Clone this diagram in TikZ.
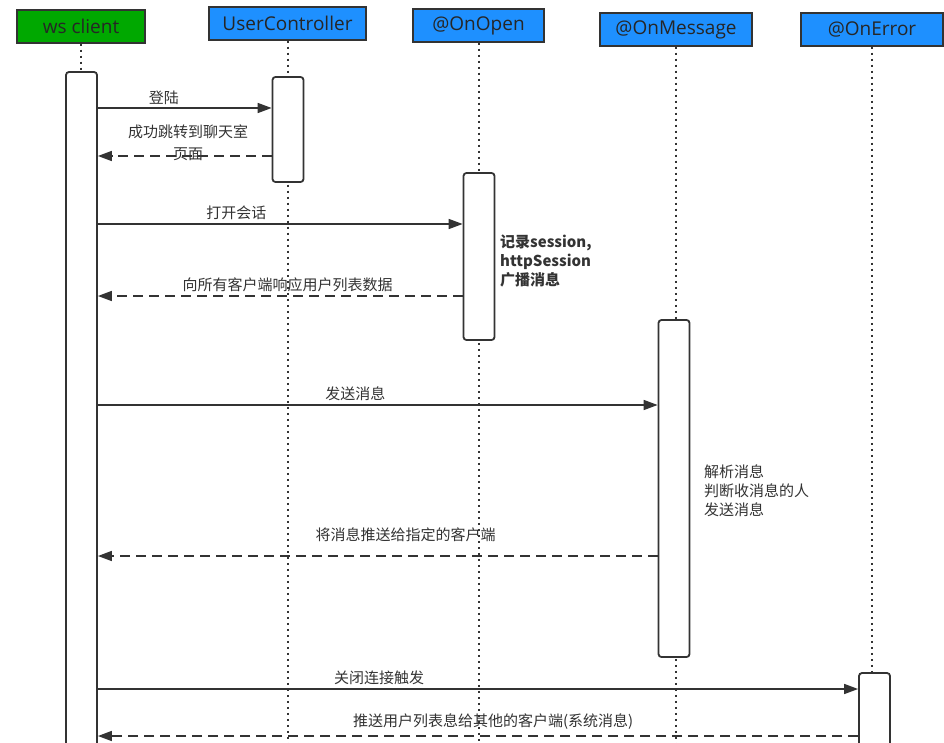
\documentclass[tikz,border=0pt]{standalone}
\usepackage{fontspec}
\setmainfont{Open Sans}
\newfontfamily\cjk{Noto Sans CJK SC}
\usetikzlibrary{arrows.meta}
\definecolor{headblue}{RGB}{30,144,255}
\definecolor{headgreen}{RGB}{0,168,0}
\definecolor{ink}{RGB}{51,51,51}

\begin{document}
\begin{tikzpicture}[x=1pt,y=-1pt,
    head/.style={draw=ink,line width=1.5pt,fill=headblue,minimum height=33pt,inner sep=0pt,text=black!85,font=\fontsize{19}{19}\selectfont},
    act/.style={draw=ink,line width=1.8pt,fill=white,rounded corners=3pt,minimum width=31pt,inner sep=0pt},
    life/.style={ink,line width=2pt,dash pattern=on 2pt off 4pt},
    call/.style={ink,line width=1.6pt,-{Triangle[length=14pt,width=10pt]}},
    answer/.style={call,dash pattern=on 10pt off 6pt},
    lbl/.style={font=\cjk\fontsize{15}{18}\selectfont,text=black!80,inner sep=3pt},
    note/.style={lbl,align=left,anchor=north west,font=\cjk\fontsize{15}{19}\selectfont}]
 \useasboundingbox (0,0) rectangle (944,743);
 \clip (0,0) rectangle (944,743);
 \fill[white] (0,0) rectangle (944,743);
 % heads of the lifelines
 \node[head,fill=headgreen,minimum width=128pt] (client) at (81,26.5) {ws client};
 \node[head,minimum width=157pt] (user) at (287.5,23.5) {UserController};
 \node[head,minimum width=131pt] (open) at (478.5,25.5) {@OnOpen};
 \node[head,minimum width=152pt] (msg) at (676,29.5) {@OnMessage};
 \node[head,minimum width=142pt] (err) at (872,29.5) {@OnError};
 \coordinate (bottom) at (0,760);
 \foreach \n in {client,user,open,msg,err}{\draw[life] (\n.south) -- (\n |- bottom);}
 % activation bars
 \node[act,minimum height=690pt] (aclient) at (81.5,417) {};
 \node[act,minimum height=105pt] (auser) at (288,129.5) {};
 \node[act,minimum height=167pt] (aopen) at (479,256.5) {};
 \node[act,minimum height=337pt] (amsg) at (674,488.5) {};
 \node[act,minimum height=90pt] (aerr) at (874.5,718) {};
 % messages
 \draw[call] (aclient.east |- 0,108) -- node[lbl,pos=0.38,above] {登陆} (auser.west |- 0,108);
 \draw[answer] (auser.west |- 0,156) -- node[lbl,pos=0.48,above,yshift=-9pt,align=center,font=\cjk\fontsize{15}{22}\selectfont] {成功跳转到聊天室\\页面} (aclient.east |- 0,156);
 \draw[call] (aclient.east |- 0,224) -- node[lbl,pos=0.38,above] {打开会话} (aopen.west |- 0,224);
 \draw[answer] (aopen.west |- 0,296) -- node[lbl,pos=0.48,above] {向所有客户端响应用户列表数据} (aclient.east |- 0,296);
 \node[note,font=\cjk\bfseries\fontsize{15}{19}\selectfont] (noteopen) at (497,232) {记录session,\\httpSession\\广播消息};
 \draw[call] (aclient.east |- 0,405) -- node[lbl,pos=0.46,above] {发送消息} (amsg.west |- 0,405);
 \draw[answer] (amsg.west |- 0,556) -- node[lbl,pos=0.45,above,yshift=10pt] {将消息推送给指定的客户端} (aclient.east |- 0,556);
 \node[note] (notemsg) at (701,462) {解析消息\\判断收消息的人\\发送消息};
 \draw[call] (aclient.east |- 0,689) -- node[lbl,pos=0.37,above] {关闭连接触发} (aerr.west |- 0,689);
 \draw[answer] (aerr.west |- 0,736) -- node[lbl,pos=0.48,above,yshift=3pt] {推送用户列表息给其他的客户端(系统消息)} (aclient.east |- 0,736);
\end{tikzpicture}
\end{document}
